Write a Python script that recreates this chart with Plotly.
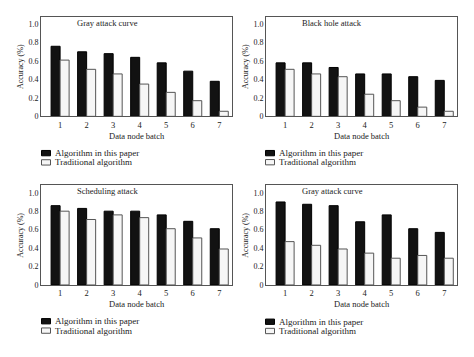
import plotly.graph_objects as go

batches = [1, 2, 3, 4, 5, 6, 7]
series_names = ["Algorithm in this paper", "Traditional algorithm"]
panel_titles = ["Gray attack curve", "Black hole attack", "Scheduling attack", "Gray attack curve"]
x_title = "Data node batch"
y_title = "Accuracy (%)"

p1_ours = [0.76, 0.70, 0.68, 0.64, 0.58, 0.49, 0.38]
p1_trad = [0.61, 0.51, 0.46, 0.35, 0.26, 0.17, 0.055]
p2_ours = [0.58, 0.58, 0.53, 0.46, 0.46, 0.43, 0.39]
p2_trad = [0.51, 0.46, 0.43, 0.24, 0.17, 0.10, 0.055]
p3_ours = [0.86, 0.83, 0.80, 0.80, 0.76, 0.69, 0.61]
p3_trad = [0.80, 0.71, 0.76, 0.73, 0.61, 0.51, 0.39]
p4_ours = [0.90, 0.875, 0.86, 0.685, 0.76, 0.61, 0.57]
p4_trad = [0.47, 0.43, 0.39, 0.345, 0.29, 0.32, 0.29]

y_ticks = [0, 0.2, 0.4, 0.6, 0.8, 1.0]
y_ticktext = ["0", "0.2", "0.4", "0.6", "0.8", "1.0"]

panels = [(p1_ours, p1_trad), (p2_ours, p2_trad), (p3_ours, p3_trad), (p4_ours, p4_trad)]

W, H = 474, 357
FONT = "Liberation Serif"
OURS_FILL, OURS_LINE = "#121212", "#000000"
TRAD_FILL, TRAD_LINE = "#f6f6f6", "#555555"
# plot-area boxes in pixels: (left, right, top, bottom)
boxes = [(41, 232, 17, 118), (266, 457, 17, 118), (41, 232, 188, 289), (266, 457, 188, 289)]
title_pos = [(75, 23), (300, 23), (75, 194), (300, 194)]
# legend: swatch left x, row1 y, row2 y
legend_pos = [(41.5, 155.3, 164.7), (265.5, 155.3, 164.5), (41.5, 325.8, 335.3), (265.5, 326.3, 335.7)]

fig = go.Figure()
layout = dict(
    width=W, height=H, margin=dict(l=0, r=0, t=0, b=0),
    paper_bgcolor="white", plot_bgcolor="white",
    font=dict(family=FONT, size=8, color="#222"),
    barmode="group", bargap=0.32, bargroupgap=0,
    showlegend=False,
)
annotations = []
shapes = []
for i, (ours, trad) in enumerate(panels):
    n = i + 1
    xa = "x" if n == 1 else f"x{n}"
    ya = "y" if n == 1 else f"y{n}"
    fig.add_trace(go.Bar(x=batches, y=ours, name=series_names[0], xaxis=xa, yaxis=ya,
                         marker=dict(color=OURS_FILL, line=dict(color=OURS_LINE, width=1)),
                         offsetgroup="a"))
    fig.add_trace(go.Bar(x=batches, y=trad, name=series_names[1], xaxis=xa, yaxis=ya,
                         marker=dict(color=TRAD_FILL, line=dict(color=TRAD_LINE, width=1)),
                         offsetgroup="b"))
    l, r, t, b = boxes[i]
    xkey = "xaxis" if n == 1 else f"xaxis{n}"
    ykey = "yaxis" if n == 1 else f"yaxis{n}"
    layout[xkey] = dict(domain=[l / W, r / W], anchor=ya, range=[0.28, 7.48],
                        tickvals=batches, showgrid=False, zeroline=False,
                        showline=True, linecolor="#555", linewidth=1, mirror=True,
                        ticks="", tickfont=dict(size=8.5))
    layout[ykey] = dict(domain=[1 - b / H, 1 - t / H], anchor=xa, range=[0, 1.08],
                        tickvals=y_ticks, ticktext=y_ticktext, showgrid=False, zeroline=False,
                        showline=True, linecolor="#555", linewidth=1, mirror=True,
                        ticks="", tickfont=dict(size=8))
    # axis titles
    annotations.append(dict(text=x_title, xref="paper", yref="paper",
                            x=(l + r) / 2 / W, y=1 - (b + 19.5) / H, xanchor="center", yanchor="middle",
                            showarrow=False, font=dict(size=8.5)))
    annotations.append(dict(text=y_title, xref="paper", yref="paper", textangle=-90,
                            x=(l - 20.5) / W, y=1 - (t + b) / 2 / H, xanchor="center", yanchor="middle",
                            showarrow=False, font=dict(size=8)))
    tx, ty = title_pos[i]
    annotations.append(dict(text=panel_titles[i], xref="paper", yref="paper",
                            x=tx / W, y=1 - ty / H, xanchor="left", yanchor="middle",
                            showarrow=False, font=dict(size=8.5)))
    lx, ly1, ly2 = legend_pos[i]
    for name, fill, line, ly in ((series_names[0], OURS_FILL, OURS_LINE, ly1),
                                 (series_names[1], TRAD_FILL, TRAD_LINE, ly2)):
        shapes.append(dict(type="rect", xref="paper", yref="paper",
                           x0=lx / W, x1=(lx + 9) / W, y0=1 - (ly - 2.7) / H, y1=1 - (ly + 2.7) / H,
                           fillcolor=fill, line=dict(color=line, width=1)))
        annotations.append(dict(text=name, xref="paper", yref="paper",
                                x=(lx + 11.5) / W, y=1 - ly / H, xanchor="left", yanchor="middle",
                                showarrow=False, font=dict(size=9)))

layout["annotations"] = annotations
layout["shapes"] = shapes
fig.update_layout(**layout)
fig.write_html("out.html", config={"displayModeBar": False},
               post_script="document.body.style.margin='0';")
